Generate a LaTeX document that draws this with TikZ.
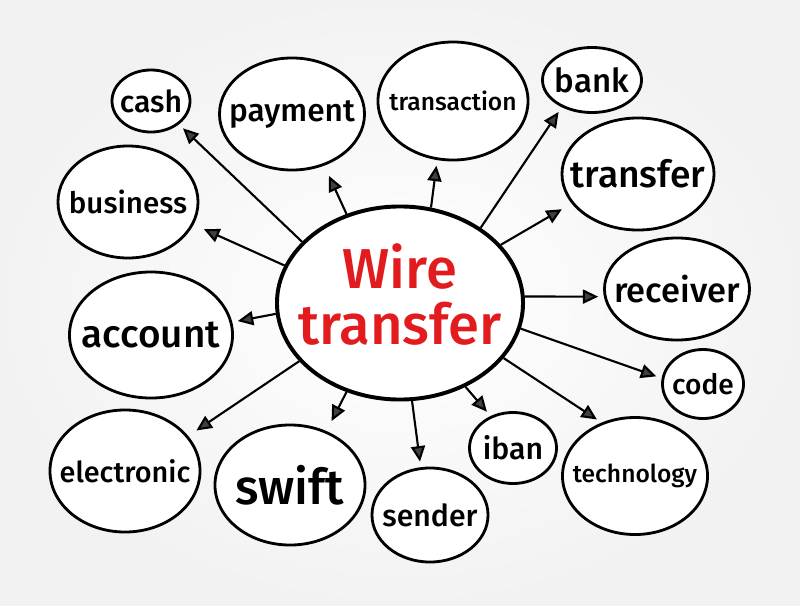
\documentclass[tikz,border=0pt]{standalone}
\usepackage{fontspec}
\newfontfamily\marker{Fira Sans Medium}
\usepackage{tikz}
\usetikzlibrary{
    positioning,
    shapes.geometric,
    arrows.meta
}
\definecolor{wirered}{HTML}{E11B1E}

\begin{document}
\begin{tikzpicture}[x=0.025cm, y=-0.025cm,
  bubble/.style={ellipse, draw, line width=2pt, fill=white, inner sep=0pt},
  word/.style={font=\marker\fontsize{#1}{#1}\selectfont},
  link/.style={line width=1.5pt, shorten >=4pt,
    -{Triangle[length=11pt, width=10pt, fill=black!75]}}]
\fill[inner color=white, outer color=black!5] (0,0) rectangle (800,605);
\node[bubble, line width=2.8pt, minimum width=6.15cm, minimum height=4.825cm,
  label={[font=\marker\fontsize{40}{40}\selectfont, text=wirered, align=center, yshift=6pt]center:Wire\\transfer}] (wire) at (400,303) {};
\node[bubble, minimum width=1.95cm, minimum height=1.55cm, label={[word=21.5]center:cash}] (cash) at (151,101) {};
\node[bubble, minimum width=3.625cm, minimum height=2.8cm, label={[word=22.5]center:payment}] (payment) at (292,114) {};
\node[bubble, minimum width=3.75cm, minimum height=2.95cm, label={[word=17.5]center:transaction}] (transaction) at (453,101) {};
\node[bubble, minimum width=2.475cm, minimum height=1.625cm, label={[word=23.5]center:bank}] (bank) at (592,80) {};
\node[bubble, minimum width=3.8cm, minimum height=2.8cm, label={[word=26.5]center:transfer}] (transfer) at (638,174) {};
\node[bubble, minimum width=3.625cm, minimum height=2.55cm, label={[word=24.5]center:receiver}] (receiver) at (677,289) {};
\node[bubble, minimum width=2.025cm, minimum height=1.725cm, label={[word=20]center:code}] (code) at (703,384) {};
\node[bubble, minimum width=3.625cm, minimum height=2.925cm, label={[word=17.5]center:technology}] (technology) at (635,476) {};
\node[bubble, minimum width=2.175cm, minimum height=1.775cm, label={[word=21.5]center:iban}] (iban) at (513,448) {};
\node[bubble, minimum width=2.9cm, minimum height=2.35cm, label={[word=21.5]center:sender}] (sender) at (430,515) {};
\node[bubble, minimum width=3.75cm, minimum height=3cm, label={[word=35]center:swift}] (swift) at (290,485) {};
\node[bubble, minimum width=3.75cm, minimum height=3.05cm, label={[word=20.5]center:electronic}] (electronic) at (125,471) {};
\node[bubble, minimum width=4.075cm, minimum height=3.15cm, label={[word=27.5]center:account}] (account) at (151,335) {};
\node[bubble, minimum width=3.5cm, minimum height=2.8cm, label={[word=21]center:business}] (business) at (128,202) {};
\draw[link] (wire.148) -- (cash.-40);
\draw[link, shorten >=8pt] (wire.121) -- (payment.-58);
\draw[link] (wire.72) -- (transaction.-105);
\draw[link] (wire.43) -- (bank.-138);
\draw[link, shorten >=8pt] (wire.30) -- (transfer.204);
\draw[link] (wire.3) -- (receiver.186);
\draw[link] (wire.-12) -- (code.172);
\draw[link] (wire.-28) -- (technology.122);
\draw[link] (wire.-52) -- (iban.125);
\draw[link] (wire.-83) -- (sender.101);
\draw[link, shorten >=8pt] (wire.-121) -- (swift.56);
\draw[link, shorten >=7pt] (wire.-150) -- (electronic.29);
\draw[link] (wire.185) -- (account.9);
\draw[link, shorten >=8pt] (wire.162) -- (business.-19);
\end{tikzpicture}
\end{document}
